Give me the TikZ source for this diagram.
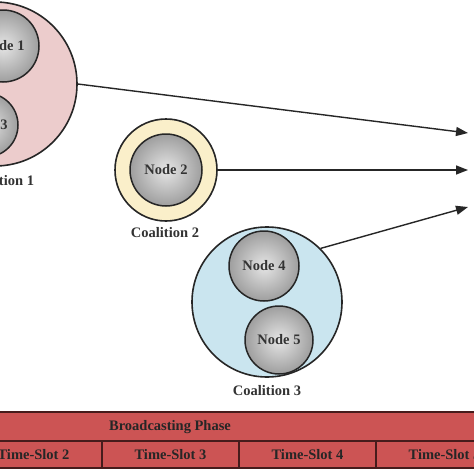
\documentclass[tikz,border=0pt]{standalone}
\usepackage{fontspec}
\setmainfont{Liberation Serif}
\usetikzlibrary{arrows.meta, positioning, calc, shapes}

\definecolor{coalpink}{RGB}{236,204,204}
\definecolor{coalyellow}{RGB}{250,239,202}
\definecolor{coalblue}{RGB}{202,229,239}
\definecolor{slotred}{RGB}{204,84,84}
\definecolor{slotline}{RGB}{70,28,28}

\tikzset{
  coalition/.style={circle, draw=black!85, line width=1.6pt, inner sep=0pt},
  member/.style={circle, draw=black!85, line width=1.5pt, inner sep=0pt,
    inner color=gray!20, outer color=gray!76,
    font=\bfseries\fontsize{14.5}{16}\selectfont, text=black!80},
  caption/.style={font=\bfseries\fontsize{14.5}{16}\selectfont, text=black!80},
  slot/.style={rectangle, draw=slotline, fill=slotred, line width=1.6pt,
    minimum width=137pt, minimum height=27pt, inner sep=0pt,
    font=\bfseries\fontsize{14.5}{16}\selectfont, text=black!85},
  link/.style={-{Triangle[length=12pt, width=9pt]}, line width=1.4pt, black!85}
}

\begin{document}
\begin{tikzpicture}[x=1pt, y=-1pt]
    \clip (0,0) rectangle (474,474);
    \fill[white] (0,0) rectangle (474,474);

    % Coalition 1
    \node[coalition, fill=coalpink, minimum size=164pt] (c1) at (-5,84) {};
    \node[member, minimum size=72pt] (n1) at (3,46) {Node 1};
    \node[member, minimum size=64pt] (n3) at (-14,125) {Node 3};
    \node[caption] (l1) at (0,181) {Coalition 1};

    % Coalition 2
    \node[coalition, fill=coalyellow, minimum size=102pt] (c2) at (166,170) {};
    \node[member, minimum size=72pt] (n2) at (166,170) {Node 2};
    \node[caption] (l2) at (165,233) {Coalition 2};

    % Coalition 3
    \node[coalition, fill=coalblue, minimum size=150pt] (c3) at (267,302) {};
    \node[member, minimum size=70pt] (n4) at (264,266) {Node 4};
    \node[member, minimum size=68pt] (n5) at (279,340) {Node 5};
    \node[caption] (l3) at (267,391) {Coalition 3};

    % arrows to the right
    \coordinate (t1) at (468,133);
    \coordinate (t2) at (468,170);
    \coordinate (t3) at (468,207);
    \draw[link] (c1.east) -- (t1);
    \draw[link] (c2.east) -- (t2);
    \draw[link] (c3.north east) -- (t3);

    % Time slots
    \node[slot, minimum width=560pt, minimum height=29pt] (bar) at (240,426.5) {};
    \node[caption, text=black!85] (bphase) at (170,427) {Broadcasting Phase};
    \foreach \k [count=\i from 0] in {2,3,4,5}
        \node[slot] (ts\k) at (33.5+137*\i,454.5) {Time-Slot \k};

\end{tikzpicture}
\end{document}
